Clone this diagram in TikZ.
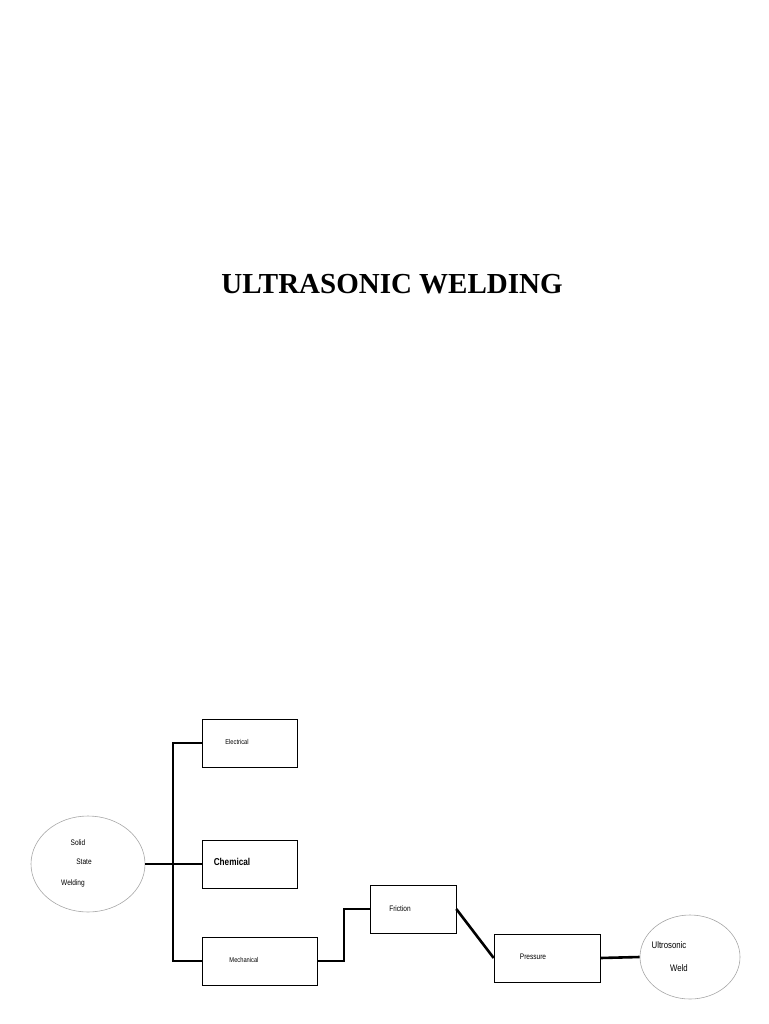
\documentclass[tikz,border=0pt]{standalone}
\usepackage{fontspec}
\setmainfont{Liberation Serif}
\newfontfamily\lsans[FakeStretch=0.82]{Liberation Sans}
\usetikzlibrary{shapes.geometric}
\begin{document}
\begin{tikzpicture}[x=1pt,y=-1pt,
  box/.style={draw,line width=0.6pt,minimum width=#1,minimum height=48pt,inner sep=0pt},
  oval/.style={draw=gray!70,ellipse,line width=0.6pt},
  conn/.style={line width=2.6pt},
  lbl/.style={font=\lsans\fontsize{#1}{#1}\selectfont,inner sep=0pt}]
\useasboundingbox (0,0) rectangle (768,1024);
\node[font=\bfseries\fontsize{29}{30}\selectfont] (title) at (392,284) {ULTRASONIC WELDING};
\node[oval,minimum width=114pt,minimum height=96pt] (ssw) at (88,864) {};
\node[box=95pt] (ele) at (249.5,743) {};
\node[box=95pt] (che) at (249.5,864) {};
\node[box=115pt] (mec) at (259.5,961) {};
\node[box=86pt] (fri) at (413,909) {};
\node[box=106pt] (pre) at (547,958) {};
\node[oval,minimum width=100pt,minimum height=84pt] (uw) at (690,957) {};
\node[lbl=8] (t1) at (78,843) {Solid};
\node[lbl=8] (t2) at (84,862) {State};
\node[lbl=8] (t3) at (73,883) {Welding};
\node[lbl=7] (t4) at (237,742) {Electrical};
\node[lbl=10,font=\lsans\bfseries\fontsize{10}{10}\selectfont] (t5) at (232,862) {Chemical};
\node[lbl=7] (t6) at (244,960) {Mechanical};
\node[lbl=8] (t7) at (400,909) {Friction};
\node[lbl=8] (t8) at (533,957) {Pressure};
\node[lbl=9.5] (t9) at (669,945) {Ultrosonic};
\node[lbl=9.5] (t10) at (679,968) {Weld};
\coordinate (b1) at (173,743);
\coordinate (b3) at (173,961);
\coordinate (m1) at (344,961);
\coordinate (m2) at (344,909);
\draw[conn] (ssw.east) -- (ssw.east -| b1);
\draw[conn] (ele.west) -- (b1) -- (b3) -- (mec.west);
\draw[conn] (che.west) -- (che.west -| b1);
\draw[conn] (mec.east) -- (m1) -- (m2) -- (fri.west);
\draw[conn] (fri.east) -- (pre.west);
\draw[conn] (pre.east) -- (uw.west);
\end{tikzpicture}
\end{document}
